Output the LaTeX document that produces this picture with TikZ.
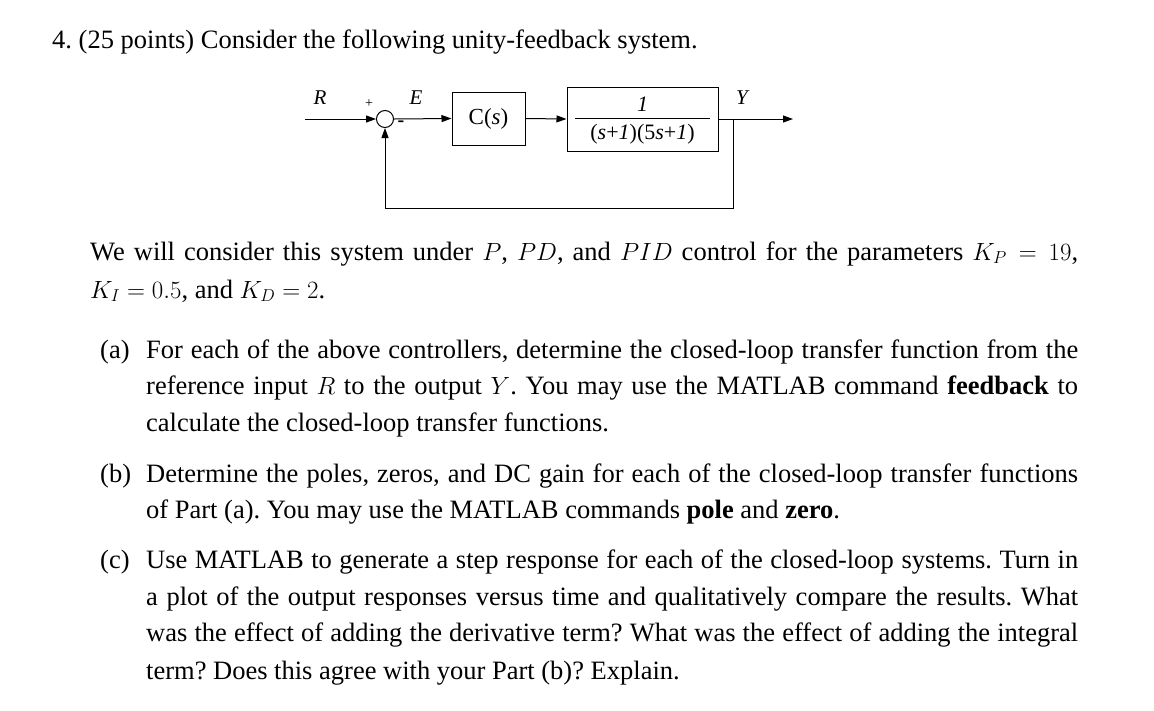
\documentclass[tikz,border=0pt]{standalone}
\usepackage{fontspec}
\setmainfont{Liberation Serif}
\usetikzlibrary{arrows.meta}
\frenchspacing
\begin{document}
\begin{tikzpicture}[x=1pt,y=-1pt,
  blk/.style={draw,line width=1pt,inner sep=0pt},
  sig/.style={line width=1pt,-{Triangle[length=10pt,width=7pt]}},
  txt/.style={anchor=base west,inner sep=0pt,font=\fontsize{26.5}{30}\selectfont},
  lbl/.style={inner sep=0pt,font=\fontsize{21}{22}\selectfont\itshape}]
\useasboundingbox (0,0) rectangle (1154,710);
% diagram
\coordinate (in) at (305,119);
\node[draw,circle,line width=1pt,minimum size=17pt,inner sep=0pt] (sum) at (385,119) {};
\node[blk,minimum width=73pt,minimum height=53pt] (C) at (488.5,118.5) {\fontsize{23}{24}\selectfont C(\textit{s})};
\node[blk,minimum width=151pt,minimum height=64pt] (G) at (642.5,119) {};
\node[lbl,font=\fontsize{22}{22}\selectfont\itshape] (num) at (642.5,104) {1};
\node[lbl,font=\fontsize{22}{22}\selectfont] (den) at (642.5,134) {(\textit{s}+\textit{1})(5\textit{s}+\textit{1})};
\draw[line width=0.6pt] (575,118) -- (710,118);
\coordinate (br) at (733,119);
\coordinate (out) at (793,119);
\coordinate (b1) at (733,208);
\coordinate (b2) at (385,208);
\draw[sig] (in) -- (sum.west);
\draw[sig] (sum.east) -- (C.west);
\draw[sig] (C.east) -- (G.west);
\draw[sig] (G.east) -- (out);
\draw[sig] (br) -- (b1) -- (b2) -- (sum.south);
\node[lbl] (R) at (320,98) {R};
\node[lbl] (E) at (416,98) {E};
\node[lbl] (Y) at (742,98) {Y};
\node[lbl,font=\fontsize{14}{14}\selectfont] (plus) at (369,104) {+};
\node[lbl,font=\bfseries\fontsize{20}{20}\selectfont] (minus) at (401,124) {-};
% text
\node[txt] (t0) at (52,48) {4. (25 points) Consider the following unity-feedback system.};
\node[txt] (t1) at (90,260) {\makebox[988pt][s]{We will consider this system under {$P$}, {$PD$}, and {$PID$} control for the parameters {$K_P=19$},}};
\node[txt] (t2) at (90,298) {$K_I=0.5$, and $K_D=2$.};
\node[txt] (a0) at (100,358) {(a)};
\node[txt] (a1) at (146,358) {\makebox[932pt][s]{For each of the above controllers, determine the closed-loop transfer function from the}};
\node[txt] (a2) at (146,394) {\makebox[932pt][s]{reference input {$R$} to the output {$Y$}. You may use the MATLAB command \textbf{feedback} to}};
\node[txt] (a3) at (146,431) {calculate the closed-loop transfer functions.};
\node[txt] (b0) at (100,482) {(b)};
\node[txt] (b1t) at (146,482) {\makebox[932pt][s]{Determine the poles, zeros, and DC gain for each of the closed-loop transfer functions}};
\node[txt] (b2t) at (146,518) {of Part (a). You may use the MATLAB commands \textbf{pole} and \textbf{zero}.};
\node[txt] (c0) at (100,568) {(c)};
\node[txt] (c1) at (146,568) {\makebox[932pt][s]{Use MATLAB to generate a step response for each of the closed-loop systems. Turn in}};
\node[txt] (c2) at (146,605) {\makebox[932pt][s]{a plot of the output responses versus time and qualitatively compare the results. What}};
\node[txt] (c3) at (146,641) {\makebox[932pt][s]{was the effect of adding the derivative term? What was the effect of adding the integral}};
\node[txt] (c4) at (146,679) {term? Does this agree with your Part (b)? Explain.};
\end{tikzpicture}
\end{document}
